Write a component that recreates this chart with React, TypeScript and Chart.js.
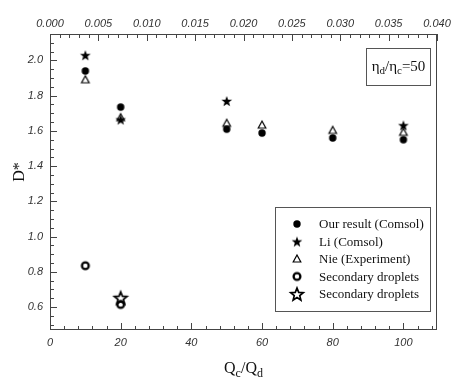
import React, { useEffect, useRef } from "react";
import { Chart, registerables } from "chart.js";

Chart.register(...registerables);

// ---- data ----
const ourX = [10, 20, 50, 60, 80, 100];
const ourY = [1.94, 1.735, 1.61, 1.588, 1.56, 1.55];
const liX = [10, 20, 50, 100];
const liY = [2.03, 1.665, 1.77, 1.632];
const nieX = [10, 20, 50, 60, 80, 100];
const nieY = [1.89, 1.675, 1.643, 1.633, 1.603, 1.592];
const secCircleX = [10, 20];
const secCircleY = [0.835, 0.615];
const secStarX = [20];
const secStarY = [0.653];

const seriesLabels = [
  "Our result (Comsol)",
  "Li (Comsol)",
  "Nie (Experiment)",
  "Secondary droplets",
  "Secondary droplets",
];
const bottomTicks = [0, 20, 40, 60, 80, 100];
const topTicks = [0, 0.005, 0.01, 0.015, 0.02, 0.025, 0.03, 0.035, 0.04];
const leftTicks = [0.6, 0.8, 1.0, 1.2, 1.4, 1.6, 1.8, 2.0];

const X_MIN = 0;
const X_MAX = 109.5;
const X2_MIN = 0;
const X2_MAX = 0.04;
const Y_MIN = 0.47;
const Y_MAX = 2.15;

const SERIF = '"Liberation Serif", "Times New Roman", serif';
const SANS = '"Liberation Sans", Arial, sans-serif';

function starPath(ctx: CanvasRenderingContext2D, cx: number, cy: number, R: number, r: number) {
  ctx.beginPath();
  for (let i = 0; i < 10; i++) {
    const a = -Math.PI / 2 + (i * Math.PI) / 5;
    const rad = i % 2 === 0 ? R : r;
    const x = cx + rad * Math.cos(a);
    const y = cy + rad * Math.sin(a);
    if (i === 0) ctx.moveTo(x, y);
    else ctx.lineTo(x, y);
  }
  ctx.closePath();
}

function makeMarker(kind: string): HTMLCanvasElement {
  const c = document.createElement("canvas");
  c.width = 18;
  c.height = 18;
  const ctx = c.getContext("2d")!;
  const m = 9;
  ctx.fillStyle = "#000";
  ctx.strokeStyle = "#000";
  if (kind === "dot") {
    ctx.beginPath();
    ctx.arc(m, m, 3.7, 0, Math.PI * 2);
    ctx.fill();
  } else if (kind === "star") {
    starPath(ctx, m, m + 0.6, 5.6, 2.3);
    ctx.fill();
  } else if (kind === "tri") {
    ctx.lineWidth = 1.2;
    ctx.beginPath();
    ctx.moveTo(m, m - 4);
    ctx.lineTo(m + 3.8, m + 3);
    ctx.lineTo(m - 3.8, m + 3);
    ctx.closePath();
    ctx.fillStyle = "#fff";
    ctx.fill();
    ctx.stroke();
  } else if (kind === "ring") {
    ctx.lineWidth = 2.3;
    ctx.beginPath();
    ctx.arc(m, m, 3.4, 0, Math.PI * 2);
    ctx.stroke();
  } else if (kind === "ostar") {
    ctx.lineWidth = 1.7;
    ctx.lineJoin = "miter";
    starPath(ctx, m, m + 0.7, 6.6, 2.9);
    ctx.fillStyle = "#fff";
    ctx.fill();
    ctx.stroke();
  }
  return c;
}

function pts(xs: number[], ys: number[]) {
  return xs.map((x, i) => ({ x, y: ys[i] }));
}

export default function App() {
  const ref = useRef<HTMLCanvasElement>(null);

  useEffect(() => {
    const canvas = ref.current!;
    const markers = ["dot", "star", "tri", "ring", "ostar"].map(makeMarker);

    const tickFont = { family: SANS, size: 11, style: "italic" as const };
    const tickColor = "#333";

    const overlay = {
      id: "overlay",
      afterDraw(chart: any) {
        const { ctx, chartArea: a, scales } = chart;
        ctx.save();
        // frame
        ctx.strokeStyle = "#444";
        ctx.lineWidth = 1;
        ctx.strokeRect(a.left + 0.5, a.top + 0.5, a.right - a.left - 1, a.bottom - a.top - 1);

        const line = (x1: number, y1: number, x2: number, y2: number) => {
          ctx.beginPath();
          ctx.moveTo(x1, y1);
          ctx.lineTo(x2, y2);
          ctx.stroke();
        };
        // bottom ticks
        for (let i = 0; i * 4 <= 108; i++) {
          const v = i * 4;
          const px = Math.round(scales.x.getPixelForValue(v)) + 0.5;
          const len = v % 20 === 0 ? 7 : 4;
          line(px, a.bottom, px, a.bottom - len);
        }
        // top ticks
        for (let i = 0; i <= 40; i++) {
          const px = Math.round(scales.x2.getPixelForValue(i * 0.001)) + 0.5;
          const len = i % 5 === 0 ? 7 : 4;
          line(px, a.top, px, a.top + len);
        }
        // left ticks
        for (let i = 10; i <= 43; i++) {
          const py = Math.round(scales.y.getPixelForValue(i * 0.05)) + 0.5;
          const len = i % 4 === 0 ? 7 : 4;
          line(a.left, py, a.left + len, py);
        }

        // legend box
        ctx.strokeStyle = "#555";
        ctx.strokeRect(275.5, 207.5, 155, 104);
        const rowY = [224, 241.5, 259, 276.5, 294];
        ctx.font = `13px ${SERIF}`;
        ctx.fillStyle = "#111";
        ctx.textBaseline = "middle";
        ctx.textAlign = "left";
        chart.data.datasets.forEach((ds: any, i: number) => {
          const img = markers[i];
          ctx.drawImage(img, 297 - img.width / 2, rowY[i] - img.height / 2);
          ctx.fillText(ds.label, 319, rowY[i] + 1);
        });

        // annotation box
        ctx.strokeStyle = "#555";
        ctx.strokeRect(366.5, 48.5, 64, 37);
        const parts: [string, boolean][] = [
          ["η", false],
          ["d", true],
          ["/η", false],
          ["c", true],
          ["=50", false],
        ];
        const drawRich = (items: [string, boolean][], cx: number, baseY: number, big: number, small: number, subDy: number) => {
          let w = 0;
          items.forEach(([t, sub]) => {
            ctx.font = `${sub ? small : big}px ${SERIF}`;
            w += ctx.measureText(t).width;
          });
          let x = cx - w / 2;
          ctx.textAlign = "left";
          ctx.textBaseline = "alphabetic";
          items.forEach(([t, sub]) => {
            ctx.font = `${sub ? small : big}px ${SERIF}`;
            ctx.fillText(t, x, baseY + (sub ? subDy : 0));
            x += ctx.measureText(t).width;
          });
        };
        ctx.fillStyle = "#111";
        drawRich(parts, 398.5, 71, 15, 11, 3);

        // x axis title
        drawRich(
          [
            ["Q", false],
            ["c", true],
            ["/Q", false],
            ["d", true],
          ],
          (a.left + a.right) / 2,
          373,
          16,
          12,
          4
        );

        // y axis title
        ctx.save();
        ctx.translate(20, 172);
        ctx.rotate(-Math.PI / 2);
        ctx.font = `16px ${SERIF}`;
        ctx.textAlign = "center";
        ctx.textBaseline = "middle";
        ctx.fillText("D*", 0, 0);
        ctx.restore();

        ctx.restore();
      },
    };

    const mk = (i: number, data: { x: number; y: number }[]) => ({
      label: seriesLabels[i],
      data,
      pointStyle: markers[i],
      showLine: false,
      xAxisID: "x",
      yAxisID: "y",
    });

    const chart = new Chart(canvas, {
      type: "scatter",
      data: {
        datasets: [
          mk(0, pts(ourX, ourY)),
          mk(1, pts(liX, liY)),
          mk(2, pts(nieX, nieY)),
          mk(3, pts(secCircleX, secCircleY)),
          mk(4, pts(secStarX, secStarY)),
        ],
      },
      options: {
        responsive: false,
        animation: false,
        devicePixelRatio: 1,
        layout: { padding: { left: 0, right: 37, top: 0, bottom: 0 } },
        plugins: { legend: { display: false }, tooltip: { enabled: false } },
        scales: {
          x: {
            type: "linear",
            position: "bottom",
            min: X_MIN,
            max: X_MAX,
            afterBuildTicks: (s: any) => {
              s.ticks = bottomTicks.map((v) => ({ value: v }));
            },
            afterFit: (s: any) => {
              s.height = 52;
            },
            grid: { display: false, drawTicks: false },
            border: { display: false },
            ticks: {
              font: tickFont,
              color: tickColor,
              padding: 6,
              maxRotation: 0,
              minRotation: 0,
              autoSkip: false,
              callback: (v: any) => String(v),
            },
          },
          x2: {
            type: "linear",
            position: "top",
            min: X2_MIN,
            max: X2_MAX,
            afterBuildTicks: (s: any) => {
              s.ticks = topTicks.map((v) => ({ value: v }));
            },
            afterFit: (s: any) => {
              s.height = 34;
            },
            grid: { display: false, drawTicks: false },
            border: { display: false },
            ticks: {
              font: tickFont,
              color: tickColor,
              padding: 3,
              maxRotation: 0,
              minRotation: 0,
              autoSkip: false,
              callback: (v: any) => Number(v).toFixed(3),
            },
          },
          y: {
            type: "linear",
            position: "left",
            min: Y_MIN,
            max: Y_MAX,
            afterBuildTicks: (s: any) => {
              s.ticks = leftTicks.map((v) => ({ value: v }));
            },
            afterFit: (s: any) => {
              s.width = 50;
            },
            grid: { display: false, drawTicks: false },
            border: { display: false },
            ticks: {
              font: tickFont,
              color: tickColor,
              padding: 7,
              autoSkip: false,
              callback: (v: any) => Number(v).toFixed(1),
            },
          },
        },
      } as any,
      plugins: [overlay],
    });

    return () => chart.destroy();
  }, []);

  return (
    <div style={{ position: "absolute", left: 0, top: 0, width: 474, height: 382, background: "#fff" }}>
      <canvas ref={ref} width={474} height={382} style={{ display: "block" }} />
    </div>
  );
}
